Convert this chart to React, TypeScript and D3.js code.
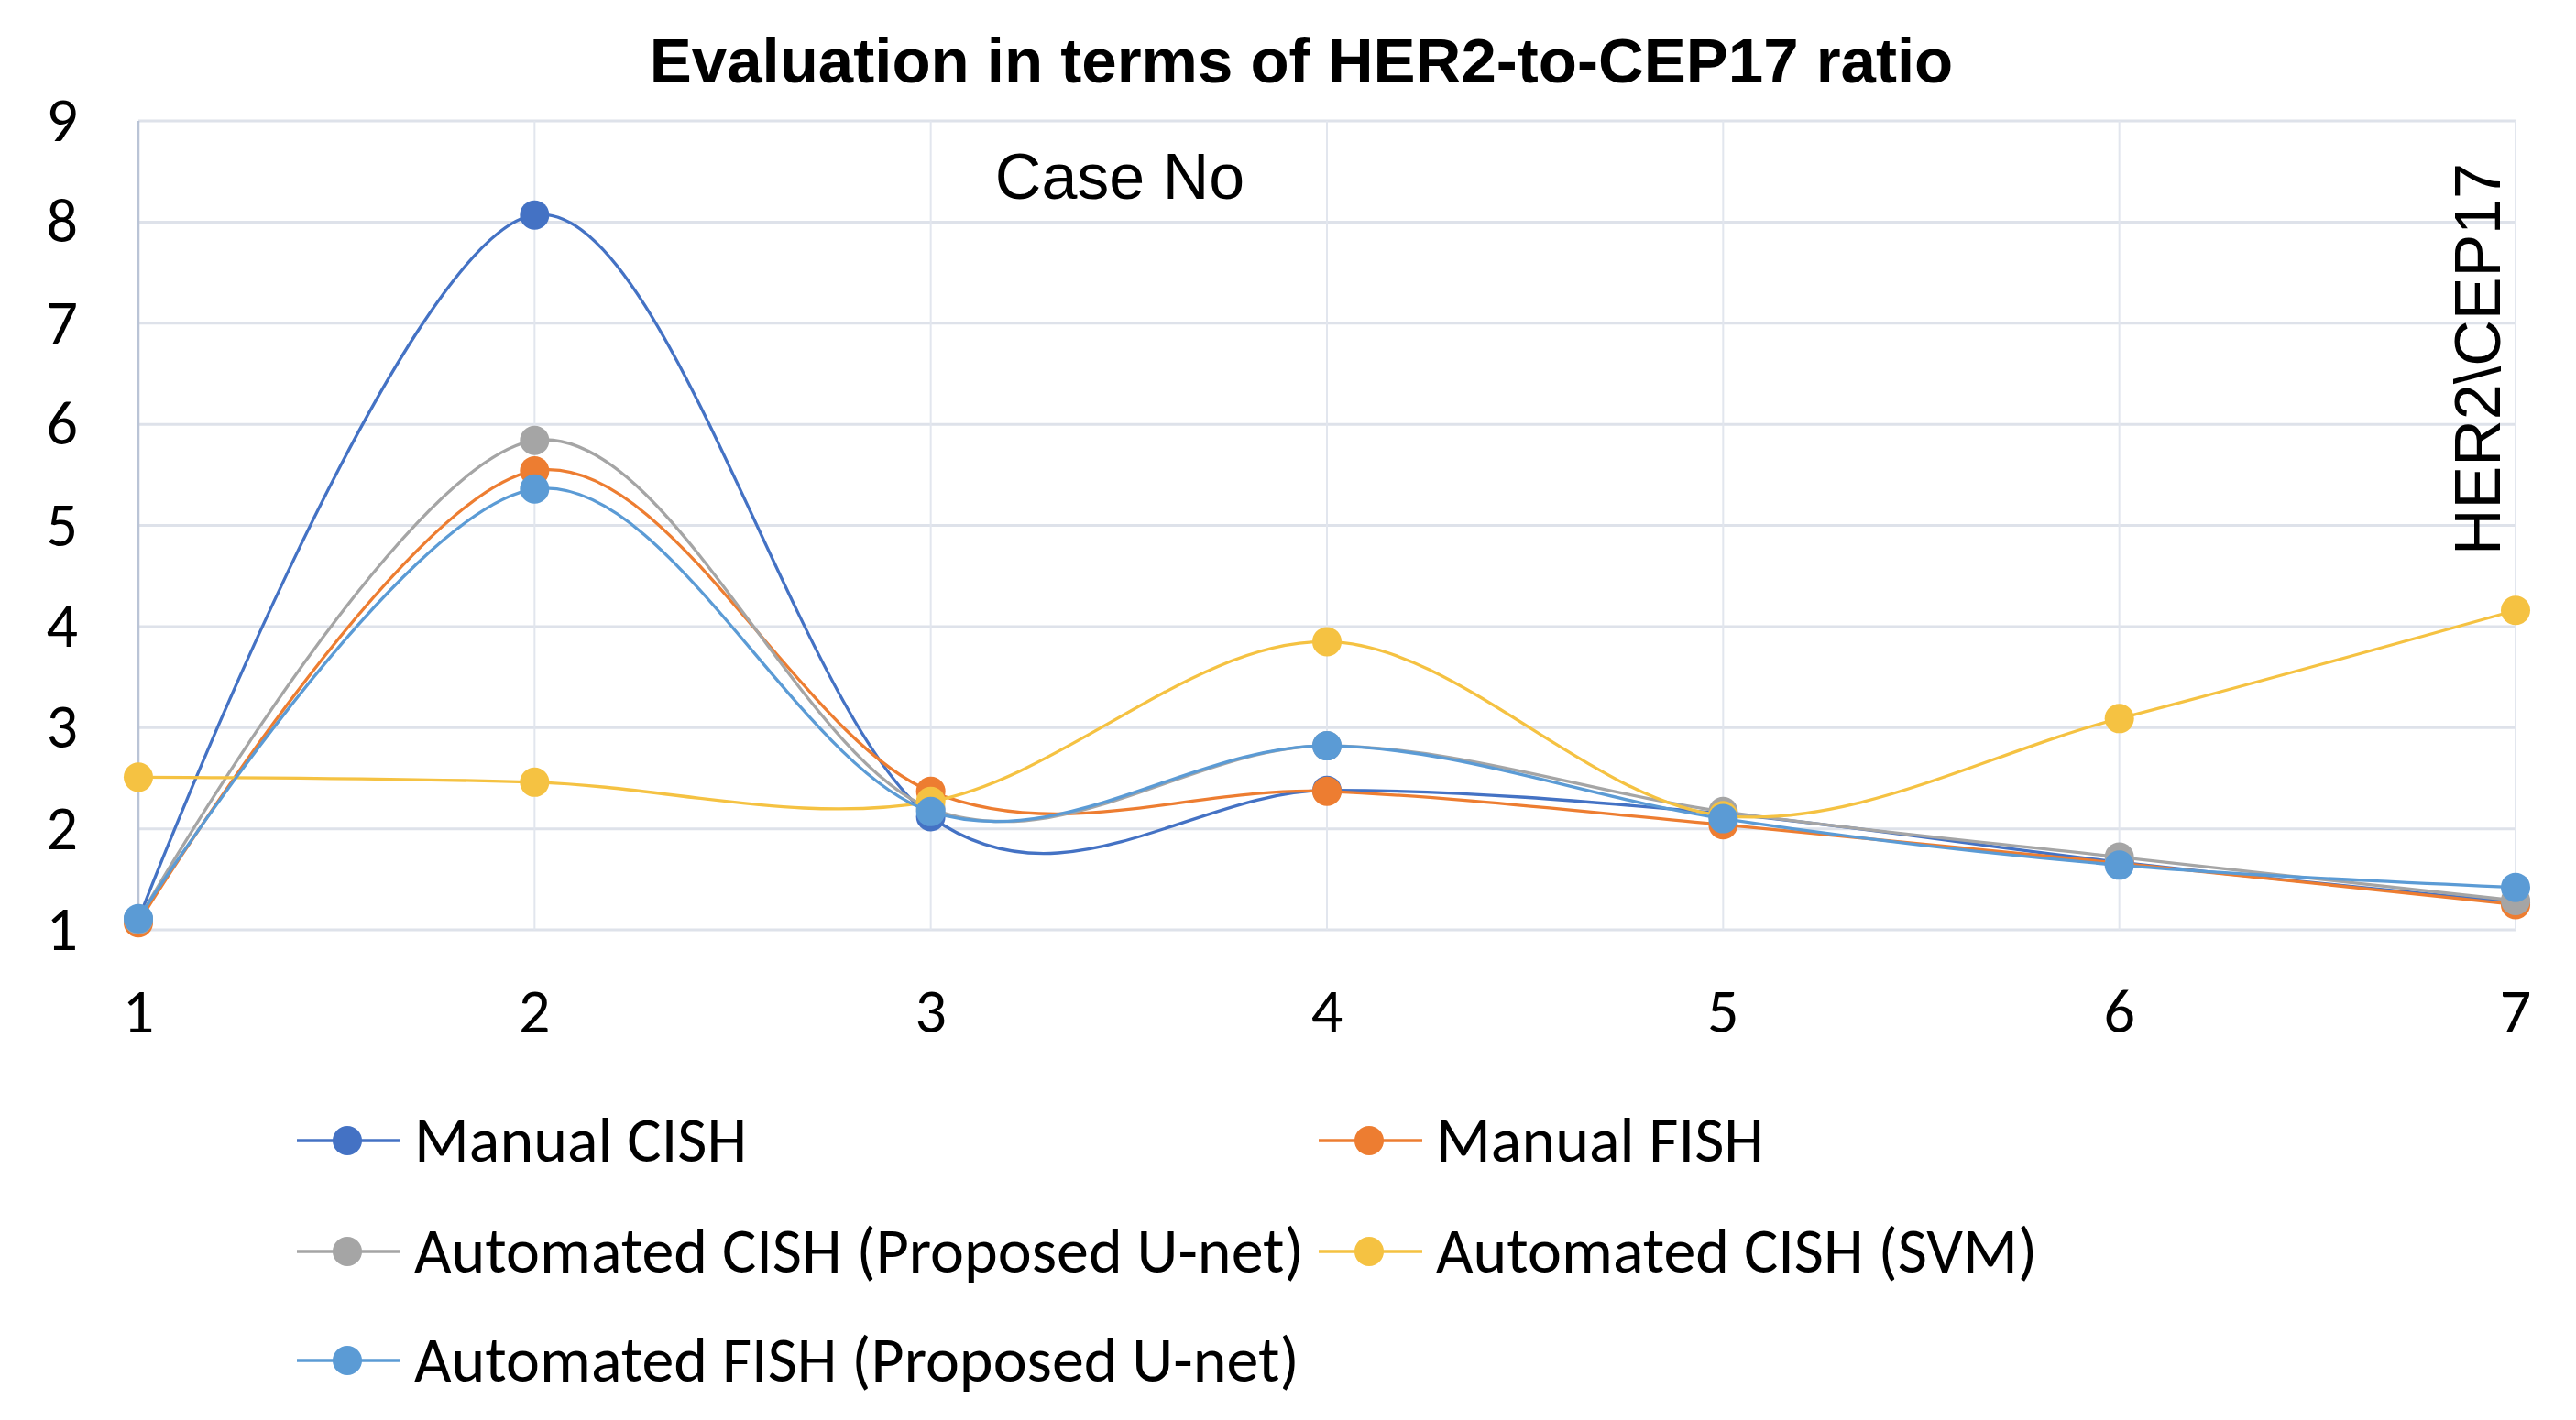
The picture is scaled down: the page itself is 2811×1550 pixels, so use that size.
import React from "react";
import * as d3 from "d3";

const cases = [1, 2, 3, 4, 5, 6, 7];
const yTicks = [1, 2, 3, 4, 5, 6, 7, 8, 9];

const manualCISH = [1.1, 8.07, 2.12, 2.38, 2.15, 1.67, 1.27];
const manualFISH = [1.07, 5.54, 2.37, 2.37, 2.04, 1.66, 1.25];
const autoCISHUnet = [1.1, 5.84, 2.2, 2.82, 2.17, 1.72, 1.29];
const autoCISHSVM = [2.51, 2.46, 2.27, 3.85, 2.13, 3.09, 4.16];
const autoFISHUnet = [1.11, 5.36, 2.17, 2.82, 2.1, 1.64, 1.42];

const seriesNames = [
  "Manual CISH",
  "Manual FISH",
  "Automated CISH (Proposed U-net)",
  "Automated CISH (SVM)",
  "Automated FISH (Proposed U-net)",
];
const seriesColors = ["#4472C4", "#ED7D31", "#A5A5A5", "#F5C242", "#5B9BD5"];
const seriesValues = [manualCISH, manualFISH, autoCISHUnet, autoCISHSVM, autoFISHUnet];

const W = 2811;
const H = 1550;
const plot = { left: 151, right: 2745, top: 132, bottom: 1015 };

export default function App() {
  const x = d3.scaleLinear().domain([1, 7]).range([plot.left, plot.right]);
  const y = d3.scaleLinear().domain([1, 9]).range([plot.bottom, plot.top]);
  const line = d3
    .line<number>()
    .x((_, i) => x(cases[i]))
    .y((d) => y(d))
    .curve(d3.curveCardinal.tension(0));

  const tickFont = "Carlito, Lato, sans-serif";
  const arial = "'Liberation Sans', Arial, sans-serif";

  const legendPos = [
    { mx: 379, my: 1245, ty: 1268 },
    { mx: 1494, my: 1245, ty: 1268 },
    { mx: 379, my: 1366, ty: 1389 },
    { mx: 1494, my: 1366, ty: 1389 },
    { mx: 379, my: 1485, ty: 1508 },
  ];

  return (
    <svg
      width={W}
      height={H}
      style={{ position: "absolute", left: 0, top: 0, background: "#fff" }}
    >
      <rect x={0} y={0} width={W} height={H} fill="#fff" />
      {yTicks.map((t) => (
        <line
          key={"h" + t}
          x1={plot.left}
          x2={plot.right}
          y1={y(t)}
          y2={y(t)}
          stroke="#DEE2EA"
          strokeWidth={3}
        />
      ))}
      {cases.map((c) => (
        <line
          key={"v" + c}
          x1={x(c)}
          x2={x(c)}
          y1={plot.top}
          y2={plot.bottom}
          stroke={c === 1 ? "#BAC4D6" : "#E2E6EE"}
          strokeWidth={c === 1 ? 2.5 : 2}
        />
      ))}
      {yTicks.map((t) => (
        <text
          key={"yl" + t}
          x={85}
          y={y(t) + 22}
          textAnchor="end"
          fontFamily={tickFont}
          fontSize={68}
          fill="#000"
        >
          {t}
        </text>
      ))}
      {cases.map((c) => (
        <text
          key={"xl" + c}
          x={x(c)}
          y={1127}
          textAnchor="middle"
          fontFamily={tickFont}
          fontSize={68}
          fill="#000"
        >
          {c}
        </text>
      ))}
      {seriesValues.map((vals, si) => (
        <g key={"s" + si}>
          <path
            d={line(vals) || ""}
            fill="none"
            stroke={seriesColors[si]}
            strokeWidth={3.3}
          />
          {vals.map((v, i) => (
            <circle
              key={i}
              cx={x(cases[i])}
              cy={y(v)}
              r={16}
              fill={seriesColors[si]}
            />
          ))}
        </g>
      ))}
      <text
        x={1420}
        y={90}
        textAnchor="middle"
        fontFamily={arial}
        fontWeight="bold"
        fontSize={69}
        fill="#000"
      >
        Evaluation in terms of HER2-to-CEP17 ratio
      </text>
      <text
        x={1222}
        y={217}
        textAnchor="middle"
        fontFamily={arial}
        fontSize={70}
        fill="#000"
      >
        Case No
      </text>
      <text
        transform={`translate(2728, 392) rotate(-90)`}
        textAnchor="middle"
        fontFamily={arial}
        fontSize={70}
        fill="#000"
      >
        HER2\CEP17
      </text>
      {seriesNames.map((name, si) => {
        const p = legendPos[si];
        return (
          <g key={"lg" + si}>
            <line
              x1={p.mx - 55}
              x2={p.mx + 58}
              y1={p.my}
              y2={p.my}
              stroke={seriesColors[si]}
              strokeWidth={3.3}
            />
            <circle cx={p.mx} cy={p.my} r={16} fill={seriesColors[si]} />
            <text
              x={p.mx + 73}
              y={p.ty}
              fontFamily={tickFont}
              fontSize={70}
              fill="#000"
            >
              {name}
            </text>
          </g>
        );
      })}
    </svg>
  );
}
